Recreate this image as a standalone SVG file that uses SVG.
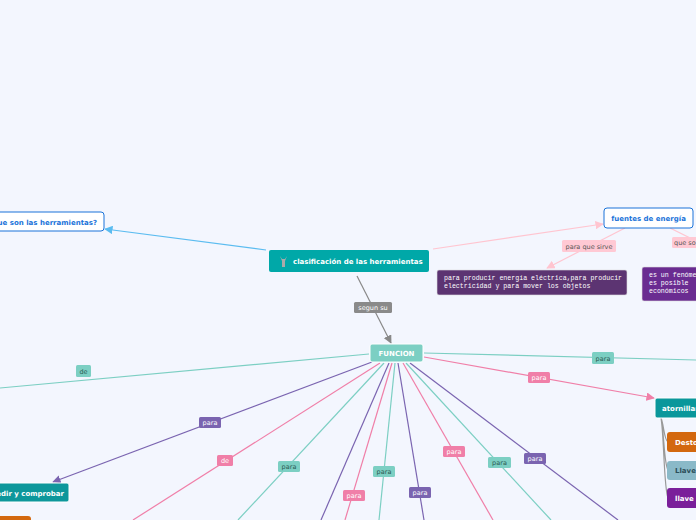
<svg xmlns="http://www.w3.org/2000/svg" width="696" height="520" viewBox="0 0 696 520">
<style>
text{font-family:"DejaVu Sans","Liberation Sans",sans-serif;font-size:7px;font-weight:bold;fill:#fff}
.lb text{font-weight:normal;fill:#fff;font-size:6.5px}
.mono{font-family:"Liberation Mono","DejaVu Sans Mono",monospace;font-weight:normal;font-size:6.6px}
.l{fill:none;stroke-width:1.2}
.t{stroke:#7ccfc3}.p{stroke:#f07fa8}.v{stroke:#7a64b0}
</style>
<defs>
<marker id="ab" viewBox="0 0 10 10" refX="9" refY="5" markerWidth="7" markerHeight="7" orient="auto"><path d="M0,0L10,5L0,10z" fill="#5bbcf0"/></marker>
<marker id="ap" viewBox="0 0 10 10" refX="9" refY="5" markerWidth="7" markerHeight="7" orient="auto"><path d="M0,0L10,5L0,10z" fill="#ffc5d0"/></marker>
<marker id="ag" viewBox="0 0 10 10" refX="9" refY="5" markerWidth="7" markerHeight="7" orient="auto"><path d="M0,0L10,5L0,10z" fill="#888"/></marker>
<marker id="apk" viewBox="0 0 10 10" refX="9" refY="5" markerWidth="7" markerHeight="7" orient="auto"><path d="M0,0L10,5L0,10z" fill="#f07fa8"/></marker>
<marker id="av" viewBox="0 0 10 10" refX="9" refY="5" markerWidth="7" markerHeight="7" orient="auto"><path d="M0,0L10,5L0,10z" fill="#7a64b0"/></marker>
</defs>
<rect width="696" height="520" fill="#f3f6fe"/>
<g id="connectors">
<line class="l" x1="266" y1="250" x2="105" y2="229" stroke="#5bbcf0" marker-end="url(#ab)"/>
<line class="l" x1="433" y1="249" x2="603" y2="224" stroke="#ffc5d0" marker-end="url(#ap)"/>
<line class="l" x1="625" y1="228" x2="547" y2="268" stroke="#ffc5d0" marker-end="url(#ap)"/>
<line class="l" x1="670" y1="228" x2="696" y2="241" stroke="#ffc5d0"/>
<line class="l" x1="357" y1="276" x2="391" y2="343" stroke="#888" marker-end="url(#ag)"/>
<line class="l t" x1="369" y1="354" x2="0" y2="388"/>
<line class="l t" x1="424" y1="353" x2="696" y2="360"/>
<line class="l p" x1="424" y1="357" x2="654" y2="398" marker-end="url(#apk)"/>
<line class="l v" x1="372" y1="362" x2="53" y2="482" marker-end="url(#av)"/>
<line class="l p" x1="380" y1="363" x2="133" y2="520"/>
<line class="l t" x1="384" y1="363" x2="238" y2="520"/>
<line class="l v" x1="389" y1="363" x2="321" y2="520"/>
<line class="l p" x1="392" y1="363" x2="345" y2="520"/>
<line class="l t" x1="395" y1="363" x2="379" y2="520"/>
<line class="l v" x1="398" y1="363" x2="424" y2="520"/>
<line class="l p" x1="403" y1="363" x2="493" y2="520"/>
<line class="l t" x1="406" y1="363" x2="551" y2="520"/>
<line class="l v" x1="410" y1="363" x2="618" y2="520"/>
<path class="l" stroke="#999" d="M661,418 C664,425 664,440 668,442 M661,418 C664,430 664,465 668,470 M661,418 C664,435 664,490 668,498"/>
</g>
<g class="lb">
<rect x="354" y="302" width="38" height="11" rx="1.5" fill="#8a8a8a"/><text x="373" y="310" text-anchor="middle">segun su</text>
<rect x="562" y="240" width="54" height="12" rx="1.5" fill="#ffc9d4"/><text x="589" y="249" text-anchor="middle" style="fill:#555">para que sirve</text>
<rect x="672" y="237" width="26" height="11" rx="1.5" fill="#ffc9d4"/><text x="674" y="245" style="fill:#555">que so</text>
<rect x="76" y="365" width="15" height="12" rx="1.5" fill="#7ccfc3"/><text x="83.5" y="374" text-anchor="middle" style="fill:#2b5a54">de</text>
<rect x="592" y="352" width="22" height="12" rx="1.5" fill="#7ccfc3"/><text x="603" y="361" text-anchor="middle" style="fill:#2b5a54">para</text>
<rect x="528" y="372" width="22" height="11" rx="1.5" fill="#f07fa8"/><text x="539" y="380" text-anchor="middle">para</text>
<rect x="199" y="417" width="22" height="11" rx="1.5" fill="#7a64b0"/><text x="210" y="425" text-anchor="middle">para</text>
<rect x="217" y="455" width="16" height="11" rx="1.5" fill="#f07fa8"/><text x="225" y="463" text-anchor="middle">de</text>
<rect x="278" y="461" width="22" height="11" rx="1.5" fill="#7ccfc3"/><text x="289" y="469" text-anchor="middle" style="fill:#2b5a54">para</text>
<rect x="343" y="490" width="22" height="11" rx="1.5" fill="#f07fa8"/><text x="354" y="498" text-anchor="middle">para</text>
<rect x="373" y="466" width="22" height="11" rx="1.5" fill="#7ccfc3"/><text x="384" y="474" text-anchor="middle" style="fill:#2b5a54">para</text>
<rect x="409" y="487" width="22" height="11" rx="1.5" fill="#7a64b0"/><text x="420" y="495" text-anchor="middle">para</text>
<rect x="443" y="446" width="22" height="11" rx="1.5" fill="#f07fa8"/><text x="454" y="454" text-anchor="middle">para</text>
<rect x="488" y="457" width="23" height="11" rx="1.5" fill="#7ccfc3"/><text x="499.5" y="465" text-anchor="middle" style="fill:#2b5a54">para</text>
<rect x="524" y="453" width="22" height="11" rx="1.5" fill="#7a64b0"/><text x="535" y="461" text-anchor="middle">para</text>
</g>
<g id="main"><rect x="269" y="250" width="160" height="22" rx="2" fill="#00a8a8"/><path d="M280,256 l2,5 v6 h3 v-6 l2,-5 l-2,3 h-3z" fill="#aaa"/><text x="293" y="264">clasificación de las herramientas</text></g>
<g id="que"><rect x="-10" y="212" width="114" height="19" rx="3" fill="#fff" stroke="#1a73d9"/><text x="97" y="225" text-anchor="end" style="fill:#1a73d9">¿que son las herramientas?</text></g>
<g id="fuentes"><rect x="604" y="208" width="89" height="20" rx="3" fill="#fff" stroke="#1a73d9"/><text x="648.5" y="221" text-anchor="middle" style="fill:#1a73d9">fuentes de energía</text></g>
<g id="sirve"><rect x="437" y="270" width="190" height="25" rx="2" fill="#5c3472" stroke="#ddd" stroke-width="0.6"/><text class="mono" x="444" y="280">para producir energía eléctrica,para producir</text><text class="mono" x="444" y="288">electricidad y para mover los objetos</text></g>
<g id="fenomeno"><rect x="642" y="267" width="60" height="34" rx="2" fill="#6a2c91" stroke="#ddd" stroke-width="0.6"/><text class="mono" x="649" y="277">es un fenómeno</text><text class="mono" x="649" y="285">es posible</text><text class="mono" x="649" y="293">económicos</text></g>
<g id="funcion"><rect x="370" y="344" width="53" height="18" rx="2" fill="#7ccfc3" stroke="#fff"/><text x="396.5" y="356" text-anchor="middle">FUNCION</text></g>
<g id="atornillar"><rect x="655" y="398" width="50" height="20" rx="2" fill="#0a979b" stroke="#fff"/><text x="662" y="411">atornillar</text></g>
<g id="desto"><rect x="667" y="432" width="40" height="20" rx="3" fill="#d3680f"/><text x="675" y="445">Destornillador</text></g>
<g id="llave1"><rect x="667" y="461" width="40" height="19" rx="3" fill="#8ab9c8"/><text x="675" y="473" style="fill:#2d4f5a">Llave</text></g>
<g id="llave2"><rect x="667" y="488" width="40" height="20" rx="3" fill="#7a1f9a"/><text x="675" y="501">llave</text></g>
<g id="medir"><rect x="-10" y="483" width="79" height="19" rx="2" fill="#0d979b" stroke="#fff"/><text x="64" y="496" text-anchor="end">medir y comprobar</text></g>
<g id="orange"><rect x="-10" y="516" width="41" height="10" rx="3" fill="#d3680f"/></g>
</svg>
